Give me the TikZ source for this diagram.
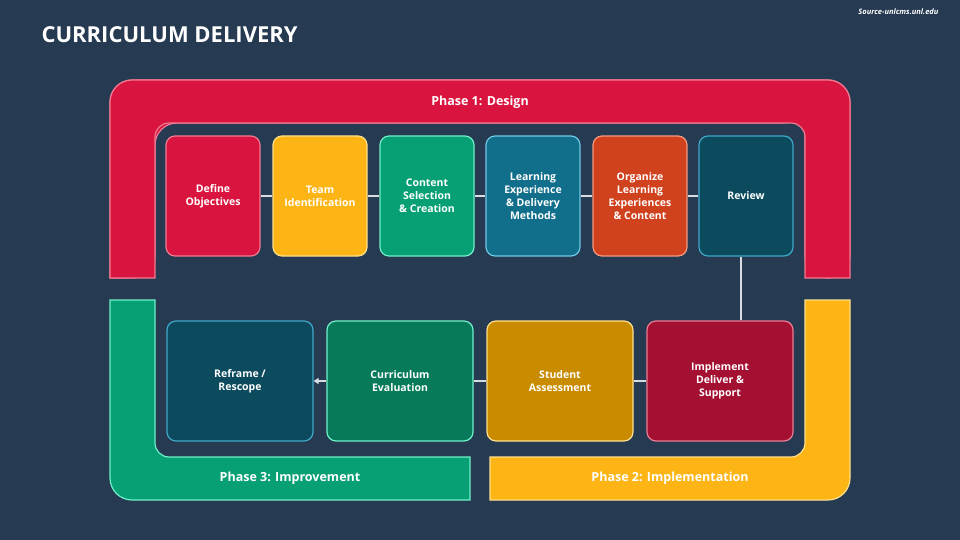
\documentclass[tikz,border=0pt]{standalone}
\usepackage{fontspec}
\setmainfont{Open Sans}
\usetikzlibrary{arrows.meta}
\definecolor{bg}{HTML}{263A52}
\definecolor{cred}{HTML}{D9153F}\definecolor{bred}{HTML}{F07A92}
\definecolor{cyel}{HTML}{FDB515}\definecolor{byel}{HTML}{FFE08A}
\definecolor{cgrn}{HTML}{07A075}\definecolor{bgrn}{HTML}{6FF0C8}
\definecolor{cteal}{HTML}{116F8C}\definecolor{bteal}{HTML}{6FC8E6}
\definecolor{corg}{HTML}{D0411E}\definecolor{borg}{HTML}{F39A80}
\definecolor{cdt}{HTML}{0C4A5E}\definecolor{bdt}{HTML}{3FA7C8}
\definecolor{cdg}{HTML}{077A5A}\definecolor{cdy}{HTML}{C98B00}\definecolor{cdr}{HTML}{A31032}
\definecolor{lnc}{HTML}{D8DDE3}
\tikzset{
 stepbox/.style={draw,line width=1.2pt,rounded corners=9pt,text=white,font=\bfseries\fontsize{10.5}{13}\selectfont,align=center,inner sep=0pt},
 topbox/.style={stepbox,minimum width=94pt,minimum height=120pt},
 botbox/.style={stepbox,minimum width=146pt,minimum height=120pt},
 link/.style={lnc,line width=1.2pt},
 phlab/.style={text=white,font=\bfseries\fontsize{12.5}{15}\selectfont}
}
\begin{document}
\begin{tikzpicture}[x=1pt,y=-1pt]
\fill[bg] (0,0) rectangle (960,540);
\useasboundingbox (0,0) rectangle (960,540);
\node[anchor=west,text=white,font=\bfseries\fontsize{22}{26}\selectfont] (title) at (38,35) {CURRICULUM DELIVERY};
\node[anchor=east,text=white,font=\bfseries\itshape\fontsize{7.5}{9}\selectfont] (src) at (942,12) {Source-unlcms.unl.edu};
% phase 1
\draw[fill=cred,draw=bred,line width=1.2pt,rounded corners=22pt]
 (110,278) -- (110,80) -- (850,80) -- (850,278) -- (805,278)[sharp corners] -- (805,123)[rounded corners=22pt] -- (805,123) -- (155,123) -- (155,278)[sharp corners] -- cycle;
\draw[fill=cred,draw=bred,line width=1.2pt] (110,278) [rounded corners=22pt]-- (110,80) -- (850,80) [sharp corners]-- (850,278) -- (805,278) [rounded corners=14pt]-- (805,123) -- (155,123) [sharp corners]-- (155,278) -- cycle;
\node[phlab] (p1) at (480,102) {Phase 1: Design};
% phase 3
\draw[fill=cgrn,draw=bgrn,line width=1.2pt] (110,300) -- (155,300) [rounded corners=14pt]-- (155,457) [sharp corners]-- (470,457) -- (470,500) [rounded corners=22pt]-- (110,500) [sharp corners]-- cycle;
\node[phlab] (p3) at (290,478) {Phase 3: Improvement};
% phase 2
\draw[fill=cyel,draw=byel,line width=1.2pt] (850,300) -- (805,300) [rounded corners=14pt]-- (805,457) [sharp corners]-- (490,457) -- (490,500) [rounded corners=22pt]-- (850,500) [sharp corners]-- cycle;
\node[phlab] (p2) at (670,478) {Phase 2: Implementation};
% top row
\node[topbox,fill=cred,draw=bred] (a) at (213,196) {Define\\Objectives};
\node[topbox,fill=cyel,draw=byel] (b) at (320,196) {Team\\Identification};
\node[topbox,fill=cgrn,draw=bgrn] (c) at (427,196) {Content\\Selection\\\& Creation};
\node[topbox,fill=cteal,draw=bteal] (d) at (533,196) {Learning\\Experience\\\& Delivery\\Methods};
\node[topbox,fill=corg,draw=borg] (e) at (640,196) {Organize\\Learning\\Experiences\\\& Content};
\node[topbox,fill=cdt,draw=bdt] (f) at (746,196) {Review};
% bottom row
\node[botbox,fill=cdr,draw=bred] (g) at (720,381) {Implement\\Deliver \&\\Support};
\node[botbox,fill=cdy,draw=byel] (h) at (560,381) {Student\\Assessment};
\node[botbox,fill=cdg,draw=bgrn] (i) at (400,381) {Curriculum\\Evaluation};
\node[botbox,fill=cdt,draw=bdt] (j) at (240,381) {Reframe /\\Rescope};
\draw[link] (a) -- (b); \draw[link] (b) -- (c); \draw[link] (c) -- (d);
\draw[link] (d) -- (e); \draw[link] (e) -- (f);
\draw[link] (f.south -| 741,0) -- (g.north -| 741,0);
\draw[link] (g) -- (h); \draw[link] (h) -- (i);
\draw[link,-{Triangle[length=5pt,width=6pt]}] (i) -- (j);
\end{tikzpicture}
\end{document}
